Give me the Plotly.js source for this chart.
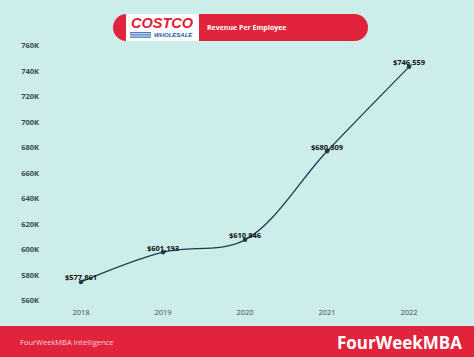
<!DOCTYPE html>
<html><head><meta charset="utf-8">
<script src="https://cdn.plot.ly/plotly-3.0.1.min.js"></script>
<style>html,body{margin:0;padding:0;background:#ccede9;}#chart{width:474px;height:357px;}</style>
</head><body><div id="chart"></div>
<script>
const years = [2018, 2019, 2020, 2021, 2022];
const revenuePerEmployee = [577861, 601193, 610846, 680309, 746559];
const valueLabels = ['$577,861', '$601,193', '$610,846', '$680,309', '$746,559'];
const tickValues = [560000, 580000, 600000, 620000, 640000, 660000, 680000, 700000, 720000, 740000, 760000];
const tickLabels = ['560K', '580K', '600K', '620K', '640K', '660K', '680K', '700K', '720K', '740K', '760K'];
const chartTitle = 'Revenue Per Employee';
const footerLeft = 'FourWeekMBA Intelligence';
const footerRight = 'FourWeekMBA';

const L = 40, T = 40, W = 410, H = 266;
const px = x => (x - L) / W;
const py = y => (T + H - y) / H;
const RED = '#e1243c';
const LINE = '#1d3a55';

const shapes = [
  {type:'rect', xref:'paper', yref:'paper', x0:px(-2), x1:px(476), y0:py(326), y1:py(359), fillcolor:RED, line:{width:0}, layer:'below'},
  {type:'rect', xref:'paper', yref:'paper', x0:px(126.5), x1:px(354.5), y0:py(41), y1:py(14), fillcolor:RED, line:{width:0}},
  {type:'circle', xref:'paper', yref:'paper', x0:px(113), x1:px(140), y0:py(41), y1:py(14), fillcolor:RED, line:{width:0}},
  {type:'circle', xref:'paper', yref:'paper', x0:px(341), x1:px(368), y0:py(41), y1:py(14), fillcolor:RED, line:{width:0}},
  {type:'rect', xref:'paper', yref:'paper', x0:px(126), x1:px(199), y0:py(41), y1:py(14), fillcolor:'#ffffff', line:{width:0}},
  {type:'rect', xref:'paper', yref:'paper', x0:px(130), x1:px(151), y0:py(33.3), y1:py(32.2), fillcolor:'#1a5aa8', line:{width:0}},
  {type:'rect', xref:'paper', yref:'paper', x0:px(130), x1:px(151), y0:py(35.5), y1:py(34.4), fillcolor:'#1a5aa8', line:{width:0}},
  {type:'rect', xref:'paper', yref:'paper', x0:px(130), x1:px(151), y0:py(37.7), y1:py(36.6), fillcolor:'#1a5aa8', line:{width:0}}
];

const annotations = [
  {xref:'paper', yref:'paper', x:px(162.5), y:py(23), text:'<b><i>COSTCO</i></b>', showarrow:false,
   font:{family:'Liberation Sans, Arial', size:14.5, color:'#e31b37'}, xanchor:'center', yanchor:'middle'},
  {xref:'paper', yref:'paper', x:px(173), y:py(35.2), text:'<b><i>WHOLESALE</i></b>', showarrow:false,
   font:{family:'Liberation Sans, Arial', size:6, color:'#1a5aa8'}, xanchor:'center', yanchor:'middle'},
  {xref:'paper', yref:'paper', x:px(205), y:py(27.5), text:'<b>' + chartTitle + '</b>', showarrow:false,
   font:{family:'Open Sans', size:7, color:'#ffffff'}, xanchor:'left', yanchor:'middle'},
  {xref:'paper', yref:'paper', x:px(18), y:py(342), text:footerLeft, showarrow:false,
   font:{family:'Open Sans', size:7.5, color:'#f6d6da'}, xanchor:'left', yanchor:'middle'},
  {xref:'paper', yref:'paper', x:px(464), y:py(342), text:'<b>' + footerRight + '</b>', showarrow:false,
   font:{family:'Open Sans', size:17, color:'#ffffff'}, xanchor:'right', yanchor:'middle'}
];
years.forEach((yr, i) => {
  annotations.push({x:yr, y:revenuePerEmployee[i], xref:'x', yref:'y', text:'<b>' + valueLabels[i] + '</b>',
    showarrow:false, yshift:4.5, font:{family:'Open Sans', size:7.5, color:'#111111'}, xanchor:'center', yanchor:'middle'});
});

const trace = {
  x: years, y: revenuePerEmployee, type:'scatter', mode:'lines+markers',
  line:{color:LINE, width:1.3, shape:'spline', smoothing:1},
  marker:{color:LINE, size:4.5},
  hoverinfo:'skip'
};

const yMin = 560000 - (306 - 304.7) / 1.275 * 1000;
const yMax = 760000 + (49.7 - 40) / 1.275 * 1000;

const layout = {
  width:474, height:357,
  margin:{l:L, r:474 - L - W, t:T, b:357 - T - H, pad:0},
  paper_bgcolor:'#ccede9', plot_bgcolor:'#ccede9',
  showlegend:false,
  xaxis:{range:[2017.5, 2022.5], tickvals:years, ticktext:years.map(String), showgrid:false, zeroline:false,
    showline:false, ticks:'', tickfont:{family:'Open Sans', size:7.5, color:'#3c4a55'}, fixedrange:true},
  yaxis:{range:[yMin, yMax], tickvals:tickValues, ticktext:tickLabels, showgrid:false, zeroline:false,
    showline:false, ticks:'', ticklabelshift:-4, tickfont:{family:'Open Sans', size:7.5, color:'#3c4a55', weight:'bold'}, fixedrange:true},
  shapes:shapes, annotations:annotations
};

Plotly.newPlot('chart', [trace], layout, {displayModeBar:false, staticPlot:true});
</script>
</body></html>
